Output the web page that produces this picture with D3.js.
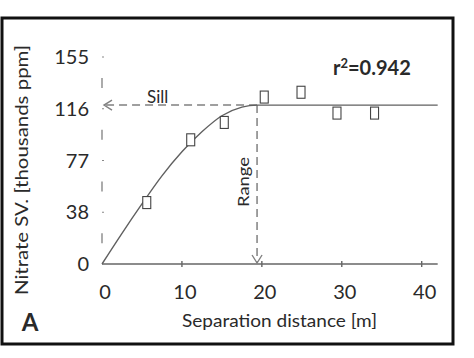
<!DOCTYPE html>
<html><head><meta charset="utf-8">
<script src="https://cdn.jsdelivr.net/npm/d3@7"></script>
<style>body{margin:0;background:#fff}svg{display:block}text{font-family:Lato,"Open Sans",sans-serif;fill:#2a2a2a}</style>
</head><body>
<script>
// data
const obsDist = [5.6, 11.1, 15.3, 20.3, 24.9, 29.4, 34.1];
const obsSV   = [46, 93, 106, 125, 128.6, 113, 113];
const curveDist = [0, 2.5, 5, 7.5, 10, 12.5, 15, 17.5, 19.4, 42];
const curveSV   = [0, 23, 45, 66, 84, 99, 111, 117.5, 119, 119];
const sill = 119, range = 19.4;
const xTicks = [0, 10, 20, 30, 40];
const yTicks = [0, 38.75, 77.5, 116.25, 155];
const yTickLabels = ["0", "38", "77", "116", "155"];

const W = 474, H = 358;
const svg = d3.select("body").append("svg").attr("width", W).attr("height", H);
svg.append("rect").attr("x",2).attr("y",18).attr("width",451).attr("height",326)
  .attr("fill","none").attr("stroke","#111").attr("stroke-width",3);

const x = d3.scaleLinear().domain([0,40]).range([102,421.7]);
const y = d3.scaleLinear().domain([0,155]).range([264,57]);
const grey = "#666";

// x axis
const xg = svg.append("g");
xg.append("line").attr("x1",x(0)).attr("x2",x(42)).attr("y1",y(0)).attr("y2",y(0))
  .attr("stroke",grey).attr("stroke-width",1.4);
xg.selectAll("line.t").data(xTicks.slice(1)).join("line").attr("class","t")
  .attr("x1",d=>x(d)).attr("x2",d=>x(d)).attr("y1",y(0)-3).attr("y2",y(0)+3)
  .attr("stroke",grey).attr("stroke-width",1.4);
xg.selectAll("text").data(xTicks).join("text")
  .attr("x",d=>x(d)+3).attr("y",299).attr("text-anchor","middle")
  .attr("font-size",20).text(d=>d);

// y axis (dashed)
const yg = svg.append("g");
yg.selectAll("line.t").data(yTicks).join("line").attr("class","t")
  .attr("x1",x(0)).attr("x2",x(0)+2).attr("y1",d=>y(d)).attr("y2",d=>y(d))
  .attr("stroke","#888").attr("stroke-width",1.2);
const mids = d3.pairs(yTicks).map(p=>(p[0]+p[1])/2);
yg.selectAll("line.m").data(mids).join("line").attr("class","m")
  .attr("x1",x(0)).attr("x2",x(0)).attr("y1",d=>y(d)-5).attr("y2",d=>y(d)+5)
  .attr("stroke","#888").attr("stroke-width",1.4);
yg.selectAll("text").data(yTicks).join("text")
  .attr("x",89).attr("y",d=>y(d)+7).attr("text-anchor","end")
  .attr("font-size",20).text((d,i)=>yTickLabels[i]);

// sill dashed arrow
svg.append("line").attr("x1",x(range)).attr("x2",x(0)+2).attr("y1",y(sill)).attr("y2",y(sill))
  .attr("stroke","#808080").attr("stroke-width",1.5).attr("stroke-dasharray","8,5");
svg.append("path").attr("d",`M${x(0)+10},${y(sill)-5}L${x(0)+2},${y(sill)}L${x(0)+10},${y(sill)+5}`)
  .attr("fill","none").attr("stroke","#808080").attr("stroke-width",1.4);
// range dashed arrow
svg.append("line").attr("x1",x(range)).attr("x2",x(range)).attr("y1",y(sill)).attr("y2",y(0)-1)
  .attr("stroke","#808080").attr("stroke-width",1.5).attr("stroke-dasharray","8,5");
svg.append("path").attr("d",`M${x(range)-5},${y(0)-9}L${x(range)},${y(0)-1}L${x(range)+5},${y(0)-9}`)
  .attr("fill","none").attr("stroke","#808080").attr("stroke-width",1.4);

// model curve
const line = d3.line().x(d=>x(d[0])).y(d=>y(d[1])).curve(d3.curveMonotoneX);
svg.append("path").datum(d3.zip(curveDist, curveSV)).attr("d",line)
  .attr("fill","none").attr("stroke","#606060").attr("stroke-width",1.4);

// observed points
svg.selectAll("rect.p").data(d3.zip(obsDist, obsSV)).join("rect").attr("class","p")
  .attr("x",d=>x(d[0])-4).attr("y",d=>y(d[1])-6).attr("width",8).attr("height",12)
  .attr("fill","#fff").attr("stroke","#444").attr("stroke-width",1.1);

// labels
svg.append("text").attr("x",147).attr("y",103).attr("font-size",17).text("Sill");
svg.append("text").attr("transform","translate(249,182) rotate(-90)").attr("text-anchor","middle")
  .attr("font-size",16).attr("textLength",50).attr("lengthAdjust","spacingAndGlyphs").text("Range");
const r2 = svg.append("text").attr("x",333).attr("y",75).attr("font-size",20).attr("font-weight","bold");
r2.append("tspan").text("r");
r2.append("tspan").attr("dy",-7).attr("font-size",13).text("2");
r2.append("tspan").attr("dy",7).text("=0.942");
svg.append("text").attr("x",279.5).attr("y",327).attr("text-anchor","middle").attr("font-size",18)
  .attr("textLength",195).attr("lengthAdjust","spacingAndGlyphs").text("Separation distance [m]");
svg.append("text").attr("transform","translate(28,170) rotate(-90)").attr("text-anchor","middle")
  .attr("font-size",18).attr("textLength",250).attr("lengthAdjust","spacingAndGlyphs")
  .text("Nitrate SV. [thousands ppm]");
svg.append("text").attr("x",30).attr("y",331).attr("text-anchor","middle").attr("font-size",24)
  .attr("font-weight","bold").text("A");
</script>
</body></html>
